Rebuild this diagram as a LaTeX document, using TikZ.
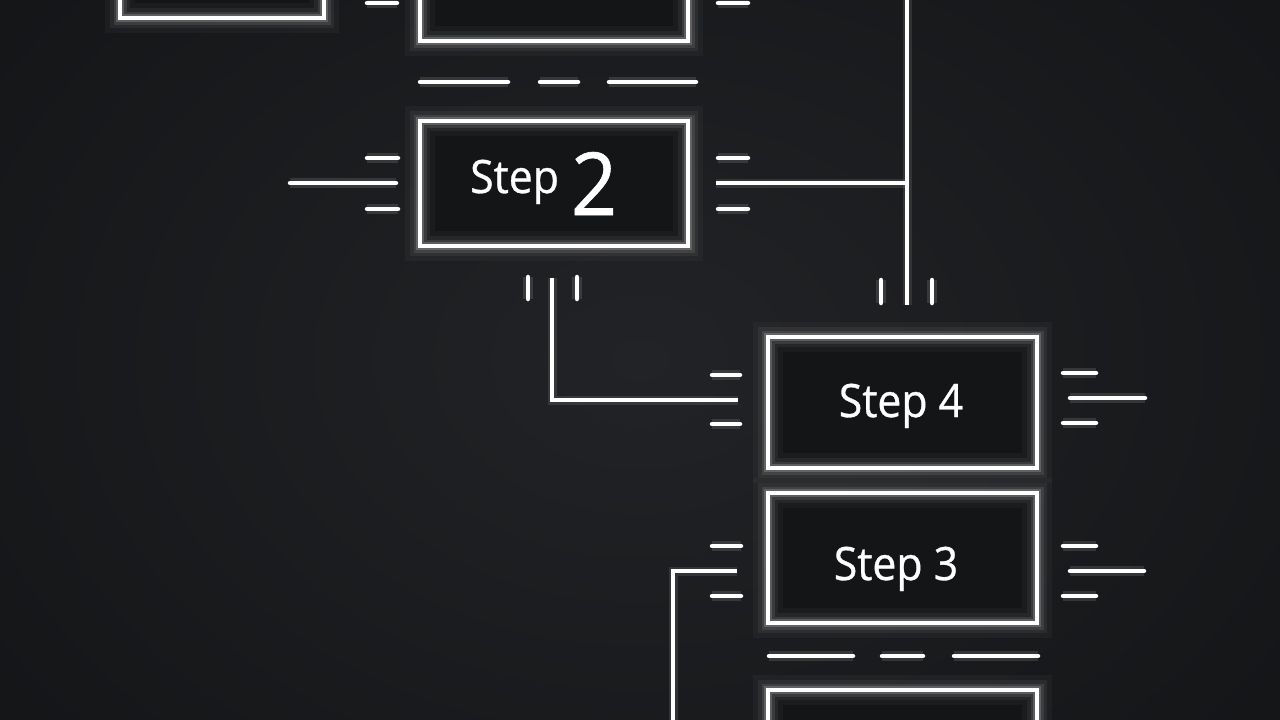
\documentclass[tikz,border=0pt]{standalone}
\usepackage{fontspec}
\newfontfamily\stepfont[FakeStretch=0.93,FakeBold=0.7]{Open Sans}
\definecolor{bgin}{HTML}{212326}
\definecolor{bgout}{HTML}{131416}
\definecolor{boxin}{HTML}{141517}
\tikzset{
  boxarea/.style={fill=boxin, draw=none, inner sep=0pt, outer sep=0pt},
  boxline/.style={draw=white, line width=3.8pt},
  tickline/.style={draw=white, line width=4.5pt, line cap=round,
    preaction={draw=white, opacity=0.12, line width=10pt}},
  conn/.style={draw=white, line width=3.2pt,
    preaction={draw=white, opacity=0.10, line width=9pt}},
  steptext/.style={text=white, font=\stepfont\fontsize{46}{46}\selectfont, inner sep=0pt},
}
\newcommand\glowbox[1]{%
  \foreach \w/\o in {30/0.03,20/0.05,13/0.09,8/0.18}{%
    \draw[white, line width=\w pt, opacity=\o] (#1.north west) rectangle (#1.south east);}%
  \draw[boxline] (#1.north west) rectangle (#1.south east);}
\begin{document}
\begin{tikzpicture}[x=1pt,y=-1pt]
\useasboundingbox (0,0) rectangle (1280,720);
\clip (0,0) rectangle (1280,720);
\shade[inner color=bgin, outer color=bgout] (-250,-300) rectangle (1530,1020);

% boxes
\node[boxarea, minimum width=204pt, minimum height=128pt] (s0) at (222,-46) {};
\node[boxarea, minimum width=268pt, minimum height=125pt] (s1) at (554,-21.5) {};
\node[boxarea, minimum width=268pt, minimum height=125pt] (s2) at (554,183.5) {};
\node[boxarea, minimum width=269pt, minimum height=131pt] (s4) at (902.5,402.5) {};
\node[boxarea, minimum width=269pt, minimum height=130pt] (s3) at (902.5,558) {};
\node[boxarea, minimum width=269pt, minimum height=130pt] (s5) at (902.5,755) {};
\foreach \b in {s0,s1,s2,s4,s3,s5}{\glowbox{\b}}

% texts
\node[steptext, anchor=base west] (t2) at (470,193) {Step\hspace{12pt}\raisebox{-22pt}{\fontsize{87}{87}\selectfont 2}};
\node[steptext, anchor=base] (t4) at (901,417) {Step 4};
\node[steptext, anchor=base] (t3) at (896,580) {Step 3};

% side ticks: step 1
\foreach \y in {-47,3}{\draw[tickline] (367,\y) -- (397,\y); \draw[tickline] (718,\y) -- (748,\y);}
% side ticks: step 2
\foreach \y in {158,209}{\draw[tickline] (367,\y) -- (398,\y); \draw[tickline] (718,\y) -- (748,\y);}
\draw[tickline] (290,183) -- (396,183);
% step 2 bottom ticks
\foreach \x in {528,577}{\draw[tickline] (\x,277) -- (\x,299);}
% step 4 ticks
\foreach \y in {375,424}{\draw[tickline] (712,\y) -- (740,\y);}
\foreach \y in {373,423}{\draw[tickline] (1063,\y) -- (1096,\y);}
\draw[tickline] (1070,398) -- (1145,398);
\foreach \x in {881,932}{\draw[tickline] (\x,280) -- (\x,303);}
% step 3 ticks
\foreach \y in {546,596}{\draw[tickline] (712,\y) -- (741,\y); \draw[tickline] (1063,\y) -- (1096,\y);}
\draw[tickline] (1070,571) -- (1144,571);
% dash rows
\draw[tickline] (420,82) -- (508,82); \draw[tickline] (540,82) -- (578,82); \draw[tickline] (609,82) -- (696,82);
\draw[tickline] (769,656) -- (853,656); \draw[tickline] (882,656) -- (923,656); \draw[tickline] (954,656) -- (1038,656);

% connectors
\coordinate (c2r) at (716,183);
\coordinate (junc) at (907,183);
\coordinate (vtop) at (907,-10);
\coordinate (s4top) at (907,305);
\coordinate (s2bot) at (552,278);
\coordinate (s4left) at (738,400);
\coordinate (s3left) at (737,571);
\coordinate (downend) at (673,730);
\draw[conn] (c2r) -- (junc);
\draw[conn] (vtop) -- (s4top);
\draw[conn] (s2bot) |- (s4left);
\draw[conn] (s3left) -| (downend);
\end{tikzpicture}
\end{document}
